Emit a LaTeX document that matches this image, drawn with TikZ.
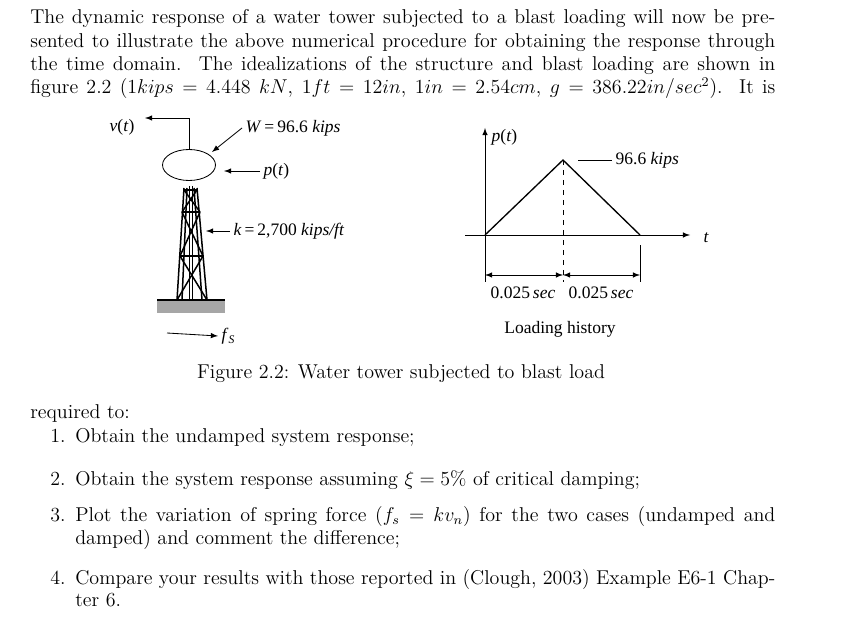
\documentclass[tikz,border=0pt]{standalone}
\usepackage{fontspec}
\usetikzlibrary{shapes.geometric}
\newfontfamily\fig{Liberation Serif}
\begin{document}
\begin{tikzpicture}[x=0.6pt,y=-0.6pt,
  body/.style={anchor=base west,inner sep=0pt,font=\fontsize{12}{14}\selectfont},
  lab/.style={inner sep=2pt,font=\fig\fontsize{10.5}{12}\selectfont},
  thinline/.style={line width=0.5pt},
  arr/.style={-latex,line width=0.5pt}]
\useasboundingbox (0,0) rectangle (845,621);
% paragraph
\node[body] (l1) at (30,24) {\makebox[447pt][s]{The dynamic response of a water tower subjected to a blast loading will now be pre-}};
\node[body] (l2) at (30,48) {\makebox[447pt][s]{sented to illustrate the above numerical procedure for obtaining the response through}};
\node[body] (l3) at (30,71) {\makebox[447pt][s]{the time domain.\ \ The idealizations of the structure and blast loading are shown in}};
\node[body] (l4) at (30,94) {\makebox[447pt][s]{figure 2.2 ($1kips=4.448\ kN$, $1ft=12in$, $1in=2.54cm$, $g=386.22in/sec^2$).\ \ It is}};
% tower
\node[draw,ellipse,thinline,minimum width=31.8pt,minimum height=18.6pt,inner sep=0pt] (tank) at (189,165) {};
\draw[thinline] (tank.north) -- (189,118) coordinate (vt);
\node[lab,anchor=east] (vlab) at (138,127) {\textit{v}(\textit{t})};
\draw[arr] (vt) -- (145,118);
\node[lab,anchor=west] (wlab) at (242,128) {\textit{W}\,=\,96.6 \textit{kips}};
\draw[arr] (wlab.west) -- (212,152);
\node[lab,anchor=west] (plab) at (260,171) {\textit{p}(\textit{t})};
\draw[arr] (plab.west) -- (224,171);
\fill[gray!70] (157,300) rectangle (225,313);
\draw[thick] (157,300) -- (225,300);
\begin{scope}[line width=0.9pt]
\draw (184,188) -- (177,300) (197,188) -- (207,300);
\draw (187,188) -- (182,300) (194,188) -- (202,300);
\draw[thinline] (189.5,186) -- (189.5,300) (192,186) -- (192,300);
\draw (183,190) -- (198,190) (182,212) -- (200,212) (180,256) -- (203,256);
\draw (184,190) -- (200,212) (197,190) -- (182,212);
\draw (182,212) -- (203,256) (200,212) -- (180,256);
\draw (180,256) -- (207,300) (203,256) -- (177,300);
\end{scope}
\node[lab,anchor=west] (klab) at (230,231) {\textit{k}\,=\,2,700 \textit{kips/ft}};
\draw[arr] (klab.west) -- (206,231);
\coordinate (fs0) at (167,333);
\node[lab,anchor=west] (fslab) at (218,336) {\textit{f}\raisebox{-0.4ex}{\scriptsize\textit{S}}};
\draw[arr] (fs0) -- (fslab.west);
% load graph
\coordinate (O) at (485,235);
\coordinate (P) at (563,160);
\coordinate (E) at (640,235);
\draw[arr] (485,252) -- (485,128) coordinate (ya);
\node[lab,anchor=west] (ptl) at (488,137) {\textit{p}(\textit{t})};
\draw[arr] (465,235) -- (690,235) coordinate (xa);
\node[lab,anchor=west] (tl) at (700,238) {\textit{t}};
\draw[line width=0.8pt] (O) -- (P) -- (E);
\draw[thinline,dashed] (P) -- (563,282);
\draw[thinline] (485,245) -- (485,282) (640,245) -- (640,282);
\draw[arr,latex-latex] (485,275) -- (563,275);
\draw[arr,latex-latex] (563,275) -- (640,275);
\node[lab] (d1) at (523,293) {0.025\,\textit{sec}};
\node[lab] (d2) at (601,293) {0.025\,\textit{sec}};
\node[lab,anchor=west] (pk) at (612,160) {96.6 \textit{kips}};
\draw[thinline] (578,160) -- (pk.west);
\node[lab] (lh) at (560,329) {Loading history};
% caption
\node[body,anchor=base] (cap) at (401,378) {Figure 2.2: Water tower subjected to blast load};
% list
\node[body] (r) at (30,418) {required to:};
\node[body] (n1) at (50,442) {1.};
\node[body] (t1) at (75,442) {Obtain the undamped system response;};
\node[body] (n2) at (50,485) {2.};
\node[body] (t2) at (75,485) {Obtain the system response assuming $\xi = 5\%$ of critical damping;};
\node[body] (n3) at (50,521) {3.};
\node[body] (t3) at (75,521) {\makebox[420pt][s]{Plot the variation of spring force ($f_s=kv_n$) for the two cases (undamped and}};
\node[body] (t3b) at (75,544) {damped) and comment the difference;};
\node[body] (n4) at (50,584) {4.};
\node[body] (t4) at (75,584) {\makebox[420pt][s]{Compare your results with those reported in (Clough, 2003) Example E6-1 Chap-}};
\node[body] (t4b) at (75,606) {ter 6.};
\end{tikzpicture}
\end{document}
